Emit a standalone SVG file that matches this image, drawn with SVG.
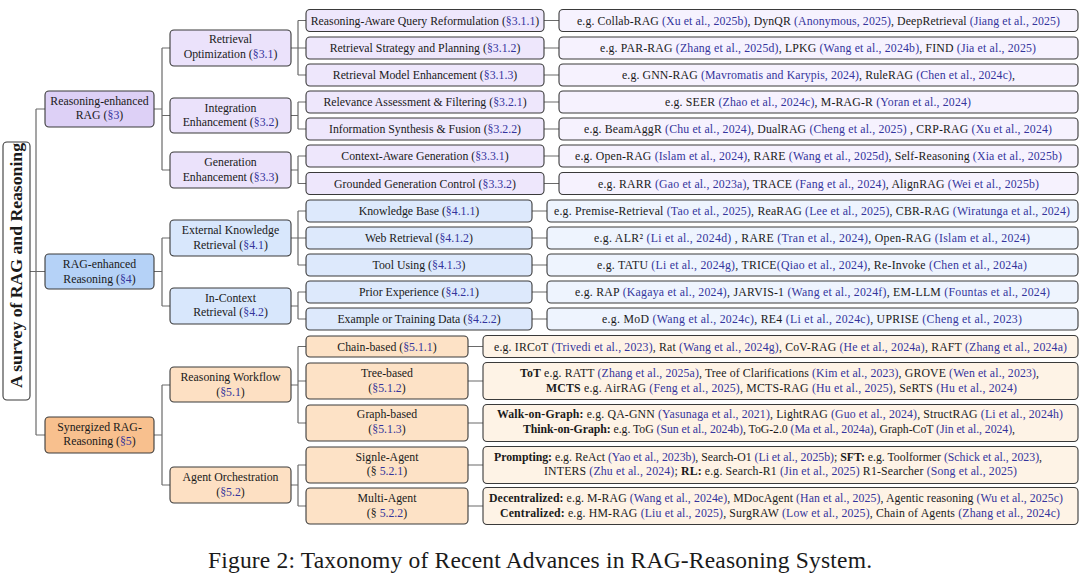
<svg xmlns="http://www.w3.org/2000/svg" width="1080" height="578" viewBox="0 0 1080 578">
<style>
text{font-family:"Liberation Serif","Times New Roman",serif;font-size:11.8px;fill:#1a1a1a}
.m{text-anchor:middle}
.c{fill:#34349c}
.b{font-weight:bold}
.bx{stroke:#3a3a3a;stroke-width:1.1}
.p1{fill:#ddd0f6}.p2{fill:#ebe2fb}.p3{fill:#eee7fc}.p4{fill:#f6f2fe}
.b1{fill:#b5d2f7}.b2{fill:#d8e7fc}.b3{fill:#dde9fc}.b4{fill:#eef4fe}
.o1{fill:#f8c08e}.o2{fill:#fde0c3}.o3{fill:#fde2c6}.o4{fill:#fef3e6}
#connectors path{fill:none;stroke:#6a6a6a;stroke-width:1.2}
</style>
<rect width="1080" height="578" fill="#ffffff"/>
<g id="connectors">
<path d="M30,271.5H45M36,109V435M36,109H45M36,435H45"/>
<path d="M154,109H162M162,48V170M162,48H170M162,115.5H170M162,170H170"/>
<path d="M154,271.5H162M162,238V306M162,238H170M162,306H170"/>
<path d="M154,435H162M162,385V485M162,385H170M162,485H170"/>
<path d="M291,48H298M298,20.5V75M298,20.5H306M298,48H306M298,75H306"/>
<path d="M291,115.5H298M298,102V129M298,102H306M298,129H306"/>
<path d="M291,170H298M298,156V183.5M298,156H306M298,183.5H306"/>
<path d="M291,238H298M298,211V265M298,211H306M298,238H306M298,265H306"/>
<path d="M291,306H298M298,292V319M298,292H306M298,319H306"/>
<path d="M291,385H298M298,346.5V423M298,346.5H306M298,381H306M298,423H306"/>
<path d="M291,485H298M298,465V506M298,465H306M298,506H306"/>
<path d="M544,20.5H559M544,48H559M544,75H559M544,102H559M544,129H559M544,156H559M544,183.5H559"/>
<path d="M532,211H547M532,238H547M532,265H547M532,292H547M532,319H547"/>
<path d="M468,346.5H483M468,381H483M468,423H483M468,465H483M468,506H483"/>
</g>

<g id="root">
<rect class="bx" x="3" y="142" width="27" height="258" rx="4" fill="#ffffff"/>
<text class="m b" transform="translate(22,265.5) rotate(-90)" style="font-size:17.6px" textLength="245" lengthAdjust="spacingAndGlyphs">A survey of RAG and Reasoning</text>
</g>

<!-- Level 1 -->
<g id="n3">
<rect class="bx p1" x="45" y="91" width="109" height="36" rx="4"/>
<text class="m" x="99.5" y="104.7">Reasoning-enhanced</text>
<text class="m" x="99.5" y="119.3">RAG  (<tspan class="c">§3</tspan>)</text>
</g>
<g id="n4">
<rect class="bx b1" x="45" y="254" width="109" height="35" rx="4"/>
<text class="m" x="99.5" y="268">RAG-enhanced</text>
<text class="m" x="99.5" y="282.7">Reasoning (<tspan class="c">§4</tspan>)</text>
</g>
<g id="n5">
<rect class="bx o1" x="45" y="417" width="109" height="36" rx="4"/>
<text class="m" x="99.5" y="431.3">Synergized RAG-</text>
<text class="m" x="99.5" y="445">Reasoning  (<tspan class="c">§5</tspan>)</text>
</g>

<!-- Level 2 -->
<g id="n3_1">
<rect class="bx p2" x="170" y="30" width="121" height="36" rx="4"/>
<text class="m" x="230.5" y="43.3">Retrieval</text>
<text class="m" x="230.5" y="58.3">Optimization  (<tspan class="c">§3.1</tspan>)</text>
</g>
<g id="n3_2">
<rect class="bx p2" x="170" y="98" width="121" height="35" rx="4"/>
<text class="m" x="230.5" y="111.7">Integration</text>
<text class="m" x="230.5" y="125.7">Enhancement (<tspan class="c">§3.2</tspan>)</text>
</g>
<g id="n3_3">
<rect class="bx p2" x="170" y="152" width="121" height="36" rx="4"/>
<text class="m" x="230.5" y="166.3">Generation</text>
<text class="m" x="230.5" y="180.7">Enhancement (<tspan class="c">§3.3</tspan>)</text>
</g>
<g id="n4_1">
<rect class="bx b2" x="170" y="220" width="121" height="36" rx="4"/>
<text class="m" x="230.5" y="234">External Knowledge</text>
<text class="m" x="230.5" y="249">Retrieval (<tspan class="c">§4.1</tspan>)</text>
</g>
<g id="n4_2">
<rect class="bx b2" x="170" y="288" width="121" height="36" rx="4"/>
<text class="m" x="230.5" y="302.3">In-Context</text>
<text class="m" x="230.5" y="316.3">Retrieval (<tspan class="c">§4.2</tspan>)</text>
</g>
<g id="n5_1">
<rect class="bx o2" x="170" y="367" width="121" height="35" rx="4"/>
<text class="m" x="230.5" y="380.7">Reasoning Workflow</text>
<text class="m" x="230.5" y="395.7">(<tspan class="c">§5.1</tspan>)</text>
</g>
<g id="n5_2">
<rect class="bx o2" x="170" y="467" width="121" height="36" rx="4"/>
<text class="m" x="230.5" y="481.3">Agent Orchestration</text>
<text class="m" x="230.5" y="496.3">(<tspan class="c">§5.2</tspan>)</text>
</g>

<!-- Level 3 purple -->
<g id="n3_1_1">
<rect class="bx p3" x="306" y="9.5" width="238" height="22" rx="4"/>
<text class="m" x="425" y="24.5">Reasoning-Aware Query Reformulation (<tspan class="c">§3.1.1</tspan>)</text>
</g>
<g id="n3_1_2">
<rect class="bx p3" x="306" y="37" width="238" height="22" rx="4"/>
<text class="m" x="425" y="52">Retrieval Strategy and Planning (<tspan class="c">§3.1.2</tspan>)</text>
</g>
<g id="n3_1_3">
<rect class="bx p3" x="306" y="64" width="238" height="22" rx="4"/>
<text class="m" x="425" y="79">Retrieval Model Enhancement (<tspan class="c">§3.1.3</tspan>)</text>
</g>
<g id="n3_2_1">
<rect class="bx p3" x="306" y="91" width="238" height="22" rx="4"/>
<text class="m" x="425" y="106">Relevance Assessment &amp; Filtering (<tspan class="c">§3.2.1</tspan>)</text>
</g>
<g id="n3_2_2">
<rect class="bx p3" x="306" y="118" width="238" height="22" rx="4"/>
<text class="m" x="425" y="133">Information Synthesis &amp; Fusion (<tspan class="c">§3.2.2</tspan>)</text>
</g>
<g id="n3_3_1">
<rect class="bx p3" x="306" y="145" width="238" height="22" rx="4"/>
<text class="m" x="425" y="160">Context-Aware Generation (<tspan class="c">§3.3.1</tspan>)</text>
</g>
<g id="n3_3_2">
<rect class="bx p3" x="306" y="172.5" width="238" height="22" rx="4"/>
<text class="m" x="425" y="187.5">Grounded Generation Control (<tspan class="c">§3.3.2</tspan>)</text>
</g>

<!-- Leaves purple -->
<g id="l3_1_1">
<rect class="bx p4" x="559" y="9.5" width="519" height="22" rx="4"/>
<text class="m" x="818.5" y="24.5" textLength="483" lengthAdjust="spacing">e.g.  Collab-RAG <tspan class="c">(Xu et al., 2025b)</tspan>, DynQR <tspan class="c">(Anonymous, 2025)</tspan>, DeepRetrieval <tspan class="c">(Jiang et al., 2025)</tspan></text>
</g>
<g id="l3_1_2">
<rect class="bx p4" x="559" y="37" width="519" height="22" rx="4"/>
<text class="m" x="818" y="52" textLength="436" lengthAdjust="spacing">e.g.  PAR-RAG <tspan class="c">(Zhang et al., 2025d)</tspan>, LPKG <tspan class="c">(Wang et al., 2024b)</tspan>, FIND <tspan class="c">(Jia et al., 2025)</tspan></text>
</g>
<g id="l3_1_3">
<rect class="bx p4" x="559" y="64" width="519" height="22" rx="4"/>
<text class="m" x="818.5" y="79" textLength="393" lengthAdjust="spacing">e.g.  GNN-RAG <tspan class="c">(Mavromatis and Karypis, 2024)</tspan>, RuleRAG <tspan class="c">(Chen et al., 2024c)</tspan>,</text>
</g>
<g id="l3_2_1">
<rect class="bx p4" x="559" y="91" width="519" height="22" rx="4"/>
<text class="m" x="818" y="106" textLength="306" lengthAdjust="spacing">e.g.  SEER <tspan class="c">(Zhao et al., 2024c)</tspan>, M-RAG-R <tspan class="c">(Yoran et al., 2024)</tspan></text>
</g>
<g id="l3_2_2">
<rect class="bx p4" x="559" y="118" width="519" height="22" rx="4"/>
<text class="m" x="818" y="133" textLength="468" lengthAdjust="spacing">e.g.  BeamAggR <tspan class="c">(Chu et al., 2024)</tspan>, DualRAG <tspan class="c">(Cheng et al., 2025)</tspan> , CRP-RAG <tspan class="c">(Xu et al., 2024)</tspan></text>
</g>
<g id="l3_3_1">
<rect class="bx p4" x="559" y="145" width="519" height="22" rx="4"/>
<text class="m" x="818.5" y="160" textLength="487" lengthAdjust="spacing">e.g.  Open-RAG <tspan class="c">(Islam et al., 2024)</tspan>, RARE <tspan class="c">(Wang et al., 2025d)</tspan>, Self-Reasoning <tspan class="c">(Xia et al., 2025b)</tspan></text>
</g>
<g id="l3_3_2">
<rect class="bx p4" x="559" y="172.5" width="519" height="22" rx="4"/>
<text class="m" x="818.5" y="187.5" textLength="441" lengthAdjust="spacing">e.g.  RARR <tspan class="c">(Gao et al., 2023a)</tspan>, TRACE <tspan class="c">(Fang et al., 2024)</tspan>, AlignRAG <tspan class="c">(Wei et al., 2025b)</tspan></text>
</g>

<!-- Level 3 blue -->
<g id="n4_1_1">
<rect class="bx b3" x="306" y="200" width="226" height="22" rx="4"/>
<text class="m" x="419" y="215">Knowledge Base (<tspan class="c">§4.1.1</tspan>)</text>
</g>
<g id="n4_1_2">
<rect class="bx b3" x="306" y="227" width="226" height="22" rx="4"/>
<text class="m" x="419" y="242">Web Retrieval (<tspan class="c">§4.1.2</tspan>)</text>
</g>
<g id="n4_1_3">
<rect class="bx b3" x="306" y="254" width="226" height="22" rx="4"/>
<text class="m" x="419" y="269">Tool Using (<tspan class="c">§4.1.3</tspan>)</text>
</g>
<g id="n4_2_1">
<rect class="bx b3" x="306" y="281" width="226" height="22" rx="4"/>
<text class="m" x="419" y="296">Prior Experience (<tspan class="c">§4.2.1</tspan>)</text>
</g>
<g id="n4_2_2">
<rect class="bx b3" x="306" y="308" width="226" height="22" rx="4"/>
<text class="m" x="419" y="323">Example or Training Data (<tspan class="c">§4.2.2</tspan>)</text>
</g>

<!-- Leaves blue -->
<g id="l4_1_1">
<rect class="bx b4" x="547" y="200" width="531" height="22" rx="4"/>
<text class="m" x="812" y="215" textLength="516" lengthAdjust="spacing">e.g.  Premise-Retrieval <tspan class="c">(Tao et al., 2025)</tspan>,  ReaRAG <tspan class="c">(Lee et al., 2025)</tspan>,  CBR-RAG <tspan class="c">(Wiratunga et al., 2024)</tspan></text>
</g>
<g id="l4_1_2">
<rect class="bx b4" x="547" y="227" width="531" height="22" rx="4"/>
<text class="m" x="812" y="242" textLength="436" lengthAdjust="spacing">e.g.  ALR² <tspan class="c">(Li et al., 2024d)</tspan> ,  RARE <tspan class="c">(Tran et al., 2024)</tspan>,  Open-RAG <tspan class="c">(Islam et al., 2024)</tspan></text>
</g>
<g id="l4_1_3">
<rect class="bx b4" x="547" y="254" width="531" height="22" rx="4"/>
<text class="m" x="812" y="269" textLength="430" lengthAdjust="spacing">e.g.  TATU <tspan class="c">(Li et al., 2024g)</tspan>,  TRICE<tspan class="c">(Qiao et al., 2024)</tspan>,  Re-Invoke <tspan class="c">(Chen et al., 2024a)</tspan></text>
</g>
<g id="l4_2_1">
<rect class="bx b4" x="547" y="281" width="531" height="22" rx="4"/>
<text class="m" x="812.5" y="296" textLength="475" lengthAdjust="spacing">e.g.  RAP <tspan class="c">(Kagaya et al., 2024)</tspan>,  JARVIS-1 <tspan class="c">(Wang et al., 2024f)</tspan>,  EM-LLM <tspan class="c">(Fountas et al., 2024)</tspan></text>
</g>
<g id="l4_2_2">
<rect class="bx b4" x="547" y="308" width="531" height="22" rx="4"/>
<text class="m" x="812" y="323" textLength="420" lengthAdjust="spacing">e.g.  MoD <tspan class="c">(Wang et al., 2024c)</tspan>,  RE4 <tspan class="c">(Li et al., 2024c)</tspan>,  UPRISE <tspan class="c">(Cheng et al., 2023)</tspan></text>
</g>

<!-- Level 3 orange -->
<g id="n5_1_1">
<rect class="bx o3" x="306" y="336" width="162" height="21" rx="4"/>
<text class="m" x="387" y="350.5">Chain-based (<tspan class="c">§5.1.1</tspan>)</text>
</g>
<g id="n5_1_2">
<rect class="bx o3" x="306" y="363" width="162" height="36" rx="4"/>
<text class="m" x="387" y="377.3">Tree-based</text>
<text class="m" x="387" y="392.3">(<tspan class="c">§5.1.2</tspan>)</text>
</g>
<g id="n5_1_3">
<rect class="bx o3" x="306" y="405" width="162" height="36" rx="4"/>
<text class="m" x="387" y="418.3">Graph-based</text>
<text class="m" x="387" y="433.3">(<tspan class="c">§5.1.3</tspan>)</text>
</g>
<g id="n5_2_1">
<rect class="bx o3" x="306" y="447" width="162" height="36" rx="4"/>
<text class="m" x="387" y="460.7">Signle-Agent</text>
<text class="m" x="387" y="475">(§ <tspan class="c">5.2.1</tspan>)</text>
</g>
<g id="n5_2_2">
<rect class="bx o3" x="306" y="488" width="162" height="36" rx="4"/>
<text class="m" x="387" y="502.3">Multi-Agent</text>
<text class="m" x="387" y="516.7">(§ <tspan class="c">5.2.2</tspan>)</text>
</g>

<!-- Leaves orange -->
<g id="l5_1_1">
<rect class="bx o4" x="483" y="335.5" width="595" height="22" rx="4"/>
<text class="m" x="780.5" y="350.5" textLength="573" lengthAdjust="spacing">e.g.  IRCoT <tspan class="c">(Trivedi et al., 2023)</tspan>, Rat <tspan class="c">(Wang et al., 2024g)</tspan>, CoV-RAG <tspan class="c">(He et al., 2024a)</tspan>, RAFT <tspan class="c">(Zhang et al., 2024a)</tspan></text>
</g>
<g id="l5_1_2">
<rect class="bx o4" x="483" y="362.5" width="595" height="37" rx="4"/>
<text class="m" x="779.5" y="377.3" textLength="519" lengthAdjust="spacing"><tspan class="b">ToT</tspan> e.g.  RATT <tspan class="c">(Zhang et al., 2025a)</tspan>, Tree of Clarifications <tspan class="c">(Kim et al., 2023)</tspan>, GROVE <tspan class="c">(Wen et al., 2023)</tspan>,</text>
<text class="m" x="781.5" y="392.3" textLength="471" lengthAdjust="spacing"><tspan class="b">MCTS</tspan> e.g.  AirRAG <tspan class="c">(Feng et al., 2025)</tspan>, MCTS-RAG <tspan class="c">(Hu et al., 2025)</tspan>, SeRTS <tspan class="c">(Hu et al., 2024)</tspan></text>
</g>
<g id="l5_1_3">
<rect class="bx o4" x="483" y="404.5" width="595" height="37" rx="4"/>
<text class="m" x="780" y="418.3" textLength="566" lengthAdjust="spacing"><tspan class="b">Walk-on-Graph:</tspan> e.g.  QA-GNN <tspan class="c">(Yasunaga et al., 2021)</tspan>, LightRAG <tspan class="c">(Guo et al., 2024)</tspan>, StructRAG <tspan class="c">(Li et al., 2024h)</tspan></text>
<text class="m" x="769" y="433.3" textLength="492" lengthAdjust="spacing"><tspan class="b">Think-on-Graph:</tspan> e.g.  ToG <tspan class="c">(Sun et al., 2024b)</tspan>, ToG-2.0 <tspan class="c">(Ma et al., 2024a)</tspan>, Graph-CoT <tspan class="c">(Jin et al., 2024)</tspan>,</text>
</g>
<g id="l5_2_1">
<rect class="bx o4" x="483" y="446.5" width="595" height="37" rx="4"/>
<text class="m" x="768" y="460.7" textLength="548" lengthAdjust="spacing"><tspan class="b">Prompting:</tspan> e.g.  ReAct <tspan class="c">(Yao et al., 2023b)</tspan>, Search-O1 <tspan class="c">(Li et al., 2025b)</tspan>; <tspan class="b">SFT:</tspan> e.g.  Toolformer <tspan class="c">(Schick et al., 2023)</tspan>,</text>
<text class="m" x="780.5" y="475" textLength="473" lengthAdjust="spacing">INTERS <tspan class="c">(Zhu et al., 2024)</tspan>; <tspan class="b">RL:</tspan> e.g.  Search-R1 <tspan class="c">(Jin et al., 2025)</tspan> R1-Searcher <tspan class="c">(Song et al., 2025)</tspan></text>
</g>
<g id="l5_2_2">
<rect class="bx o4" x="483" y="487.5" width="595" height="37" rx="4"/>
<text class="m" x="776" y="502.3" textLength="574" lengthAdjust="spacing"><tspan class="b">Decentralized:</tspan> e.g.  M-RAG <tspan class="c">(Wang et al., 2024e)</tspan>, MDocAgent <tspan class="c">(Han et al., 2025)</tspan>, Agentic reasoning <tspan class="c">(Wu et al., 2025c)</tspan></text>
<text class="m" x="780" y="516.7" textLength="560" lengthAdjust="spacing"><tspan class="b">Centralized:</tspan> e.g.  HM-RAG <tspan class="c">(Liu et al., 2025)</tspan>, SurgRAW <tspan class="c">(Low et al., 2025)</tspan>, Chain of Agents <tspan class="c">(Zhang et al., 2024c)</tspan></text>
</g>

<text id="caption" class="m" x="540" y="568" style="font-size:23.5px" textLength="664" lengthAdjust="spacing">Figure 2: Taxonomy of Recent Advances in RAG-Reasoning System.</text>
</svg>
